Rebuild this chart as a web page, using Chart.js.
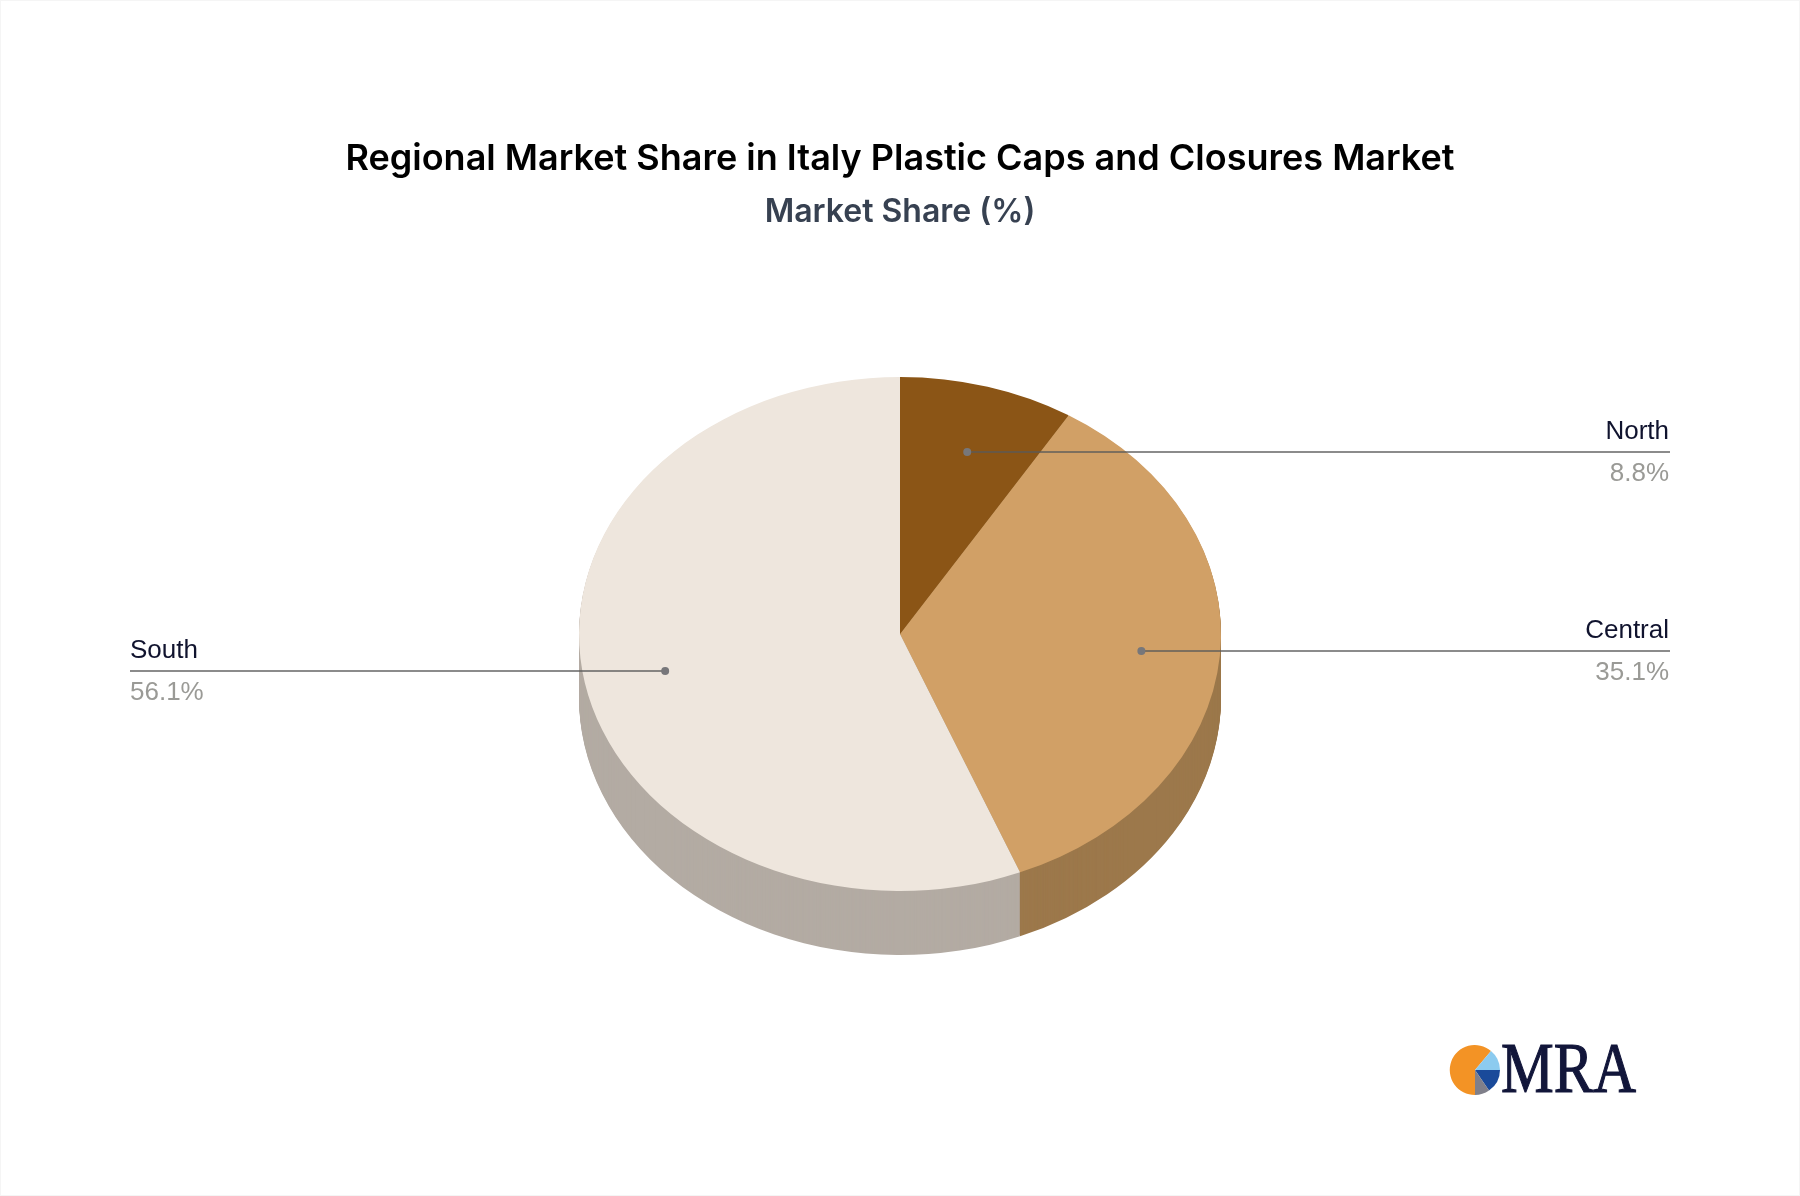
<!DOCTYPE html>
<html>
<head>
<meta charset="utf-8">
<title>Regional Market Share in Italy Plastic Caps and Closures Market</title>
<script src="https://cdn.jsdelivr.net/npm/chart.js@4"></script>
<style>
    html, body { margin: 0; padding: 0; background: #fff; }
    #wrap { position: relative; width: 1800px; height: 1196px; overflow: hidden; }
    #frame { position: absolute; inset: 0; border: 1px solid #f5f5f5; box-sizing: border-box; pointer-events: none; }
    #logo { position: absolute; left: 0; top: 0; }
</style>
</head>
<body>
<div id="wrap">
    <canvas id="shareChart" width="1800" height="1196"></canvas>
    <div id="frame"></div>
    <svg id="logo" width="1800" height="1196" viewBox="0 0 1800 1196">
        <path d="M1475 1070 L1491 1051 A25 25 0 1 0 1475 1095 Z" fill="#f39325"/>
        <path d="M1475 1070 L1491 1051 A25 25 0 0 1 1500 1070 Z" fill="#8ccbef"/>
        <path d="M1475 1070 L1500 1070 A25 25 0 0 1 1489 1090.5 Z" fill="#1a4a9a"/>
        <path d="M1475 1070 L1489 1090.5 A25 25 0 0 1 1475 1095 Z" fill="#7f7f8a"/>
        <text x="1501" y="1092" font-family="'Liberation Serif', serif" font-size="72" fill="#12163a"
              stroke="#12163a" stroke-width="1.2" textLength="135" lengthAdjust="spacingAndGlyphs">MRA</text>
    </svg>
</div>

<script>
// Data
var regions = ['North', 'Central', 'South'];
var shares = [8.8, 35.1, 56.1];
var topColors = ['#8b5516', '#d1a066', '#eee6dd'];
var sideColors = ['#68400f', '#9c784b', '#b3aba3'];

// Pie geometry on the page
var pieCenterY = 634;
var pieRadius = 321;
var tilt = 257 / 321;
var depth = 64;

// The reference is a perspective view, so the leaders sit a little lower than a flat tilt gives
var leaderNudge = [3, 1, 0];

// Tilts the pie into an ellipse and extrudes the rim downwards
var tiltedPie = {
    id: 'tiltedPie',
    beforeDatasetDraw: function(chart) {
        var ctx = chart.ctx;
        var arcs = chart.getDatasetMeta(0).data;
        var originY = arcs[0].y;

        // side wall, deepest layer first
        for (var dy = depth; dy > 0; dy--) {
            ctx.save();
            ctx.translate(0, pieCenterY + dy);
            ctx.scale(1, tilt);
            ctx.translate(0, -originY);
            arcs.forEach(function(arc, i) {
                ctx.fillStyle = sideColors[i];
                ctx.beginPath();
                ctx.moveTo(arc.x, arc.y);
                ctx.arc(arc.x, arc.y, arc.outerRadius, arc.startAngle, arc.endAngle);
                ctx.closePath();
                ctx.fill();
            });
            ctx.restore();
        }

        ctx.save();
        ctx.translate(0, pieCenterY);
        ctx.scale(1, tilt);
        ctx.translate(0, -originY);
    },
    afterDatasetDraw: function(chart) {
        chart.ctx.restore();
    }
};

// Leader lines with the region name above and the share below
var callouts = {
    id: 'callouts',
    afterDatasetsDraw: function(chart) {
        var ctx = chart.ctx;
        var arcs = chart.getDatasetMeta(0).data;
        arcs.forEach(function(arc, i) {
            var mid = (arc.startAngle + arc.endAngle) / 2;
            var px = arc.x + 1.5 + Math.cos(mid) * arc.outerRadius * 0.75;
            var py = Math.round(pieCenterY + Math.sin(mid) * arc.outerRadius * 0.75 * tilt) + leaderNudge[i];
            var onRight = Math.cos(mid) > 0;
            var textX = onRight ? 1669 : 130;
            var endX = onRight ? 1670 : 130;

            ctx.save();
            ctx.strokeStyle = 'rgba(90,90,90,0.7)';
            ctx.lineWidth = 2;
            ctx.beginPath();
            ctx.moveTo(px, py);
            ctx.lineTo(endX, py);
            ctx.stroke();

            ctx.fillStyle = '#77777a';
            ctx.beginPath();
            ctx.arc(px, py, 4, 0, Math.PI * 2);
            ctx.fill();

            ctx.font = "26px 'Liberation Sans', Arial, sans-serif";
            ctx.textAlign = onRight ? 'right' : 'left';
            ctx.textBaseline = 'alphabetic';
            ctx.fillStyle = '#10132e';
            ctx.fillText(regions[i], textX, py - 13);
            ctx.fillStyle = '#9a9a96';
            ctx.fillText(shares[i].toFixed(1) + '%', textX, py + 29);
            ctx.restore();
        });
    }
};

new Chart(document.getElementById('shareChart'), {
    type: 'pie',
    data: {
        labels: regions,
        datasets: [{
            data: shares,
            backgroundColor: topColors,
            borderWidth: 0,
            radius: pieRadius
        }]
    },
    options: {
        responsive: false,
        animation: false,
        plugins: {
            legend: { display: false },
            tooltip: { enabled: false },
            title: {
                display: true,
                text: 'Regional Market Share in Italy Plastic Caps and Closures Market',
                color: '#000000',
                font: { family: "'Inter', sans-serif", size: 36, weight: '600' },
                padding: { top: 138, bottom: 6 }
            },
            subtitle: {
                display: true,
                text: 'Market Share (%)',
                color: '#374151',
                font: { family: "'Inter', sans-serif", size: 32, weight: '600' },
                padding: { top: 6, bottom: 20 }
            }
        }
    },
    plugins: [tiltedPie, callouts]
});
</script>
</body>
</html>
